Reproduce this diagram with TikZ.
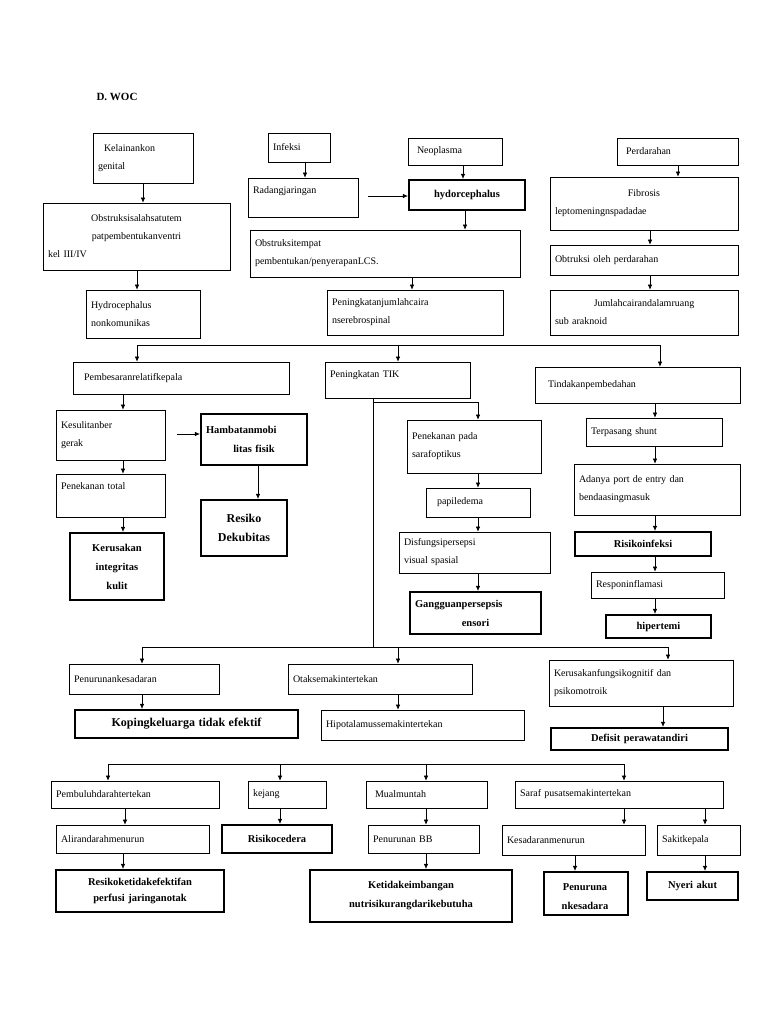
\documentclass[tikz,border=0pt]{standalone}
\usepackage{fontspec}
\setmainfont{Liberation Serif}
\usetikzlibrary{arrows.meta}
\tikzset{
 bx/.style={draw,line width=0.7pt,inner sep=3pt,font=\fontsize{10}{18}\selectfont,align=left},
 tk/.style={draw,line width=2.2pt,inner sep=3pt,font=\bfseries\fontsize{10.5}{19}\selectfont,align=center},
 arr/.style={line width=0.6pt,-{Latex[length=5pt,width=4.5pt]}},
 ln/.style={line width=0.7pt}
}
\newcommand\bx[7]{\node[#6,minimum width={(#4-#2)*1pt},minimum height={(#5-#3)*1pt},text width={(#4-#2-10)*1pt}] (#1) at ({(#2+#4)/2},{(#3+#5)/2}) {#7};}
\begin{document}
\begin{tikzpicture}[x=1pt,y=-1pt]
\useasboundingbox (0,0) rectangle (768,1024);
\node[font=\bfseries\fontsize{11}{13}\selectfont,anchor=west] (title) at (93,97) {D. WOC};
\bx{kel}{93}{133}{193}{183}{bx}{\hspace*{6pt}Kelainankon\\genital}
\bx{inf}{268}{133}{330}{162}{bx}{Infeksi}
\bx{neo}{408}{138}{502}{165}{bx}{\hspace*{4pt}Neoplasma}
\bx{per}{617}{138}{738}{165}{bx}{\hspace*{4pt}Perdarahan}
\bx{rad}{248}{178}{358}{217}{bx}{Radangjaringan\\[-4pt]\mbox{}}
\bx{hyd}{409}{180}{525}{210}{tk}{hydorcephalus}
\bx{obs}{43}{203}{230}{270}{bx}{\centering Obstruksisalahsatutem\\patpembentukanventri\\kel III/IV}
\bx{fib}{550}{177}{738}{230}{bx}{\centering Fibrosis\\leptomeningnspadadae}
\bx{obt}{250}{230}{520}{277}{bx}{Obstruksitempat\\pembentukan/penyerapanLCS.}
\bx{obr}{550}{245}{738}{275}{bx}{\centering Obtruksi oleh perdarahan}
\bx{hnk}{86}{290}{200}{338}{bx}{Hydrocephalus\\nonkomunikas}
\bx{pjc}{327}{290}{503}{335}{bx}{Peningkatanjumlahcaira\\nserebrospinal}
\bx{jca}{550}{290}{738}{335}{bx}{\centering Jumlahcairandalamruang\\sub araknoid}
\draw[arr] (kel.south-|143,0) -- (obs.north-|143,0);
\draw[arr] (inf.south-|305,0) -- (rad.north-|305,0);
\draw[arr] (neo.south-|463,0) -- (hyd.north-|463,0);
\draw[arr] (per.south-|678,0) -- (fib.north-|678,0);
\draw[arr] (rad.east|-0,196) ++(10,0) -- (hyd.west|-0,196);
\draw[arr] (hyd.south-|465,0) -- (obt.north-|465,0);
\draw[arr] (fib.south-|650,0) -- (obr.north-|650,0);
\draw[arr] (obs.south-|137,0) -- (hnk.north-|137,0);
\draw[arr] (obt.south-|412,0) -- (pjc.north-|412,0);
\draw[arr] (obr.south-|650,0) -- (jca.north-|650,0);
% bar 1
\coordinate (b1l) at (137,345); \coordinate (b1r) at (660,345);
\draw[ln] (b1l) -- (b1r);
\bx{pem}{73}{362}{289}{394}{bx}{\hspace*{6pt}Pembesaranrelatifkepala}
\bx{tik}{325}{362}{470}{398}{bx}{Peningkatan TIK\\[-6pt]\mbox{}}
\bx{tin}{535}{367}{740}{403}{bx}{\hspace*{8pt}Tindakanpembedahan}
\draw[arr] (b1l) -- (pem.north-|b1l);
\draw[arr] (b1l-|398,0) -- (tik.north-|398,0);
\draw[arr] (b1r) -- (tin.north-|b1r);
\bx{kes}{56}{410}{165}{460}{bx}{Kesulitanber\\gerak}
\bx{ham}{201}{414}{307}{465}{tk}{\raggedright Hambatanmobi\\litas fisik}
\bx{dek}{201}{500}{287}{556}{tk}{\fontsize{12}{20}\selectfont Resiko\\Dekubitas}
\bx{pto}{56}{474}{165}{517}{bx}{Penekanan total\\\mbox{}}
\bx{kin}{70}{533}{164}{600}{tk}{Kerusakan\\integritas\\kulit}
\draw[arr] (pem.south-|123,0) -- (kes.north-|123,0);
\draw[arr] (kes.south-|123,0) -- (pto.north-|123,0);
\draw[arr] (pto.south-|123,0) -- (kin.north-|123,0);
\draw[arr] (kes.east|-0,434) ++(12,0) -- (ham.west|-0,434);
\draw[arr] (ham.south-|258,0) -- (dek.north-|258,0);
% TIK trunk
\coordinate (tr1) at (373,398); \coordinate (tr2) at (373,647);
\draw[ln] (tik.south-|tr1) -- (tr2);
\draw[ln] (373,402) -- (478,402);
\bx{ppo}{407}{420}{541}{473}{bx}{Penekanan pada\\sarafoptikus}
\bx{pap}{426}{488}{530}{517}{bx}{\hspace*{6pt}papiledema}
\bx{dis}{399}{532}{550}{573}{bx}{Disfungsipersepsi\\visual spasial}
\bx{gan}{410}{592}{541}{634}{tk}{\raggedright Gangguanpersepsis\\ensori}
\draw[arr] (478,402) -- (ppo.north-|478,0);
\draw[arr] (ppo.south-|478,0) -- (pap.north-|478,0);
\draw[arr] (pap.south-|478,0) -- (dis.north-|478,0);
\draw[arr] (dis.south-|478,0) -- (gan.north-|478,0);
\bx{shu}{586}{418}{722}{446}{bx}{Terpasang shunt}
\bx{ada}{574}{464}{740}{515}{bx}{Adanya port de entry dan\\bendaasingmasuk}
\bx{rin}{575}{532}{711}{556}{tk}{Risikoinfeksi}
\bx{res}{591}{572}{724}{598}{bx}{Responinflamasi}
\bx{hip}{606}{615}{711}{638}{tk}{hipertemi}
\draw[arr] (tin.south-|655,0) -- (shu.north-|655,0);
\draw[arr] (shu.south-|655,0) -- (ada.north-|655,0);
\draw[arr] (ada.south-|655,0) -- (rin.north-|655,0);
\draw[arr] (rin.south-|655,0) -- (res.north-|655,0);
\draw[arr] (res.south-|655,0) -- (hip.north-|655,0);
% bar 2
\coordinate (b2l) at (142,647); \coordinate (b2r) at (668,647);
\draw[ln] (b2l) -- (b2r);
\bx{pkz}{69}{664}{219}{694}{bx}{Penurunankesadaran}
\bx{ota}{288}{664}{472}{694}{bx}{Otaksemakintertekan}
\bx{kfk}{549}{660}{733}{706}{bx}{Kerusakanfungsikognitif dan\\psikomotroik}
\bx{kop}{75}{710}{298}{738}{tk}{\fontsize{12}{14}\selectfont Kopingkeluarga tidak efektif}
\bx{hpt}{321}{710}{524}{740}{bx}{Hipotalamussemakintertekan}
\bx{def}{551}{728}{728}{750}{tk}{Defisit perawatandiri}
\draw[arr] (b2l) -- (pkz.north-|b2l);
\draw[arr] (b2l-|398,0) -- (ota.north-|398,0);
\draw[arr] (b2r) -- (kfk.north-|b2r);
\draw[arr] (pkz.south-|142,0) -- (kop.north-|142,0);
\draw[arr] (ota.south-|398,0) -- (hpt.north-|398,0);
\draw[arr] (kfk.south-|663,0) -- (def.north-|663,0);
% bar 3
\coordinate (b3l) at (108,764); \coordinate (b3r) at (624,764);
\draw[ln] (b3l) -- (b3r);
\bx{pbd}{51}{781}{219}{808}{bx}{Pembuluhdarahtertekan}
\bx{kej}{248}{781}{326}{808}{bx}{kejang}
\bx{mua}{366}{781}{487}{808}{bx}{\hspace*{4pt}Mualmuntah}
\bx{spt}{515}{781}{723}{808}{bx}{Saraf pusatsemakintertekan}
\draw[arr] (b3l) -- (pbd.north-|b3l);
\draw[arr] (b3l-|280,0) -- (kej.north-|280,0);
\draw[arr] (b3l-|426,0) -- (mua.north-|426,0);
\draw[arr] (b3r) -- (spt.north-|b3r);
\bx{ali}{56}{825}{209}{853}{bx}{Alirandarahmenurun}
\bx{rce}{222}{825}{332}{853}{tk}{Risikocedera}
\bx{pbb}{368}{825}{479}{853}{bx}{Penurunan BB}
\bx{kmn}{502}{825}{645}{855}{bx}{Kesadaranmenurun}
\bx{sak}{657}{825}{740}{855}{bx}{Sakitkepala}
\draw[arr] (pbd.south-|125,0) -- (ali.north-|125,0);
\draw[arr] (kej.south-|280,0) -- (rce.north-|280,0);
\draw[arr] (mua.south-|426,0) -- (pbb.north-|426,0);
\draw[arr] (spt.south-|624,0) -- (kmn.north-|624,0);
\draw[arr] (spt.south-|705,0) -- (sak.north-|705,0);
\bx{rkp}{56}{870}{224}{912}{tk}{Resikoketidakefektifan\\[-3pt]perfusi jaringanotak}
\bx{ket}{310}{870}{512}{922}{tk}{Ketidakeimbangan\\nutrisikurangdarikebutuha}
\node[draw,line width=2.2pt,minimum width=84pt,minimum height=43pt,inner sep=0pt] (pnk) at (586,893.5) {};
\begin{scope}
\clip (546,874) rectangle (626,913);
\node[font=\bfseries\fontsize{10.5}{19}\selectfont,align=center] (pnkt) at (585,897) {Penuruna\\nkesadara};
\end{scope}
\bx{nye}{647}{872}{738}{900}{tk}{Nyeri akut}
\draw[arr] (ali.south-|123,0) -- (rkp.north-|123,0);
\draw[arr] (pbb.south-|426,0) -- (ket.north-|426,0);
\draw[arr] (kmn.south-|575,0) -- (pnk.north-|575,0);
\draw[arr] (sak.south-|705,0) -- (nye.north-|705,0);
\end{tikzpicture}
\end{document}
